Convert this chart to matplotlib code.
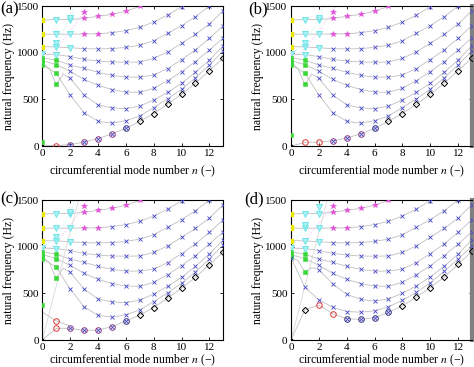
import matplotlib
matplotlib.use('Agg')
import matplotlib.pyplot as plt

plt.rcParams['font.family'] = ['Liberation Serif', 'DejaVu Serif']
plt.rcParams['mathtext.fontset'] = 'stix'

# frequencies (Hz) at n = 0, 1, 2, ...
# upper branches, the same in all four panels
up1 = [1350, 1355, 1355, 1367, 1390, 1410, 1445, 1495, 1560]
up2 = [1198, 1198, 1198, 1200, 1202, 1214, 1236, 1272, 1328, 1403, 1492, 1590]
up3 = [1065, 1062, 1053, 1043, 1040, 1043, 1057, 1080, 1128, 1207, 1290, 1385, 1500, 1620]
up4 = [985, 980, 958, 928, 910, 900, 898, 900, 939, 1008, 1100, 1195, 1307, 1450]
up5 = [945, 920, 868, 832, 790, 757, 738, 738, 760, 830, 925, 1030, 1153, 1290]
up6 = [915, 872, 800, 714, 650, 605, 578, 575, 618, 700, 796, 905, 1028, 1160]
k_up1 = 'YCCMMMMM-'
k_up2 = 'YCCMMBBBBBB-'
k_up3 = 'YCCBBBBBBBBBB-'
k_up4 = 'CCBBBBBBBBBBBB'
k_up56 = 'GGBBBBBBBBBBBB'

# branch with the dip at n=1 (x includes two in-between readings)
dip_n = [0, 0.5, 1, 1.5, 2, 3, 4, 5, 6, 7, 8, 9, 10, 11, 12, 13]
dip_abc = [890, 830, 660, 770, 725, 546, 440, 408, 400, 428, 493, 575, 671, 790, 921, 1075]
dip_d = [890, 850, 728, 775, 755, 600, 490, 435, 418, 440, 500, 580, 675, 790, 921, 1075]
k_dip = 'G-G-BBBBBBBBBBBB'

# second lowest branch
mid_abc = [870, 780, 546, 357, 264, 245, 271, 321, 412, 505, 607, 730, 868, 1020]
mid_d = [880, 565, 430, 350, 305, 298, 312, 355, 425, 510, 612, 735, 868, 1005]
k_mid = 'GGBBBBBBBBBBBB'
k_mid_d = 'BBBBBBBBBBBBBB'

# lowest branch, one per panel
low_a = [0, 5, 15, 42, 80, 130, 190, 265, 348, 447, 555, 672, 807, 946]
low_b = [0, 38, 42, 55, 85, 130, 190, 265, 348, 447, 555, 672, 807, 946]
low_c = [0, 125, 125, 102, 107, 143, 204, 268, 348, 447, 555, 672, 807, 946]
low_d = [0, 325, 375, 282, 228, 221, 240, 296, 364, 460, 560, 675, 810, 953]
k_low = 'ZRPPPPNKKKKKKK'
k_low_b = 'ZRRPPPNKKKKKKK'
k_low_d = 'ZKRRNNNNKKKKKK'

# steep branches near n = 0..3
st1_n = [0, 1, 2, 2.4]
st1_abc = [990, 1100, 1370, 1500]
st1_d = [985, 1230, 1430, 1520]
k_st1 = '-CC-'
st2_n = [0, 1, 2, 3, 3.3]
st2_abc = [930, 1040, 1230, 1432, 1520]
st2_d = [900, 1060, 1250, 1440, 1520]
k_st2 = '---M-'

# extra readings
green0 = {'a': 45, 'b': 118, 'c': 375}
c_extra_n = [0, 1, 2]
c_extra = [300, 204, 150]
faint_n = [0, 2.6]
faint = [0, 1500]

MARK = {
    'Y': dict(marker='s', ms=2.8, color='#e8e800', mfc='#e8e800'),
    'C': dict(marker='v', ms=4.2, color='#70e4e8', mfc='#a8f2f4', mew=0.7),
    'M': dict(marker='*', ms=4.2, color='#e050d8', mfc='#e050d8', mew=0.4),
    'B': dict(marker='x', ms=2.2, color='#4646d0', mew=0.6),
    'G': dict(marker='s', ms=2.3, color='#38d838', mfc='#38d838', mew=0.4),
    'R': dict(marker='o', ms=4.0, color='#e03838', mfc='none', mew=0.7),
    'P': dict(marker='o', ms=4.0, color='#8a3a7a', mfc='none', mew=0.7),
    'N': dict(marker='o', ms=4.0, color='#2a2a70', mfc='none', mew=0.7),
    'K': dict(marker='D', ms=3.2, color='black', mfc='none', mew=0.7),
    'Z': dict(marker='o', ms=1.8, color='black', mfc='black'),
}


def branch(ax, xs, ys, kinds, color='#c0c0c0', ls='-'):
    ax.plot(xs, ys, color=color, lw=0.6, ls=ls, zorder=1)
    for x, y, k in zip(xs, ys, kinds):
        if k in MARK:
            ax.plot([x], [y], ls='none', zorder=3, **MARK[k])
            if k in 'PN':
                ax.plot([x], [y], ls='none', zorder=4, **MARK['B'])


def panel(ax, key):
    n = list(range(14))
    branch(ax, n[:len(up1)], up1, k_up1)
    branch(ax, n[:len(up2)], up2, k_up2)
    branch(ax, n[:len(up3)], up3, k_up3)
    branch(ax, n, up4, k_up4)
    branch(ax, n, up5, k_up56)
    branch(ax, n, up6, k_up56)
    if key == 'd':
        branch(ax, st1_n, st1_d, k_st1, color='#b0eeee', ls=':')
        branch(ax, st2_n, st2_d, k_st2, color='#f0b8f0', ls=':')
        branch(ax, dip_n, dip_d, k_dip)
        branch(ax, n, mid_d, k_mid_d)
        branch(ax, n, low_d, k_low_d)
        branch(ax, faint_n, faint, '--', color='#d8d8d8')
        ax.plot([0], [1215], ls='none', zorder=3, **MARK['Y'])
    else:
        branch(ax, st1_n, st1_abc, k_st1, color='#b0eeee', ls=':')
        branch(ax, st2_n, st2_abc, k_st2, color='#f0b8f0', ls=':')
        branch(ax, dip_n, dip_abc, k_dip)
        branch(ax, n, mid_abc, k_mid)
        low = {'a': low_a, 'b': low_b, 'c': low_c}[key]
        kl = k_low_b if key == 'b' else k_low
        branch(ax, n, low, kl)
        ax.plot([0], [green0[key]], ls='none', zorder=3, **MARK['G'])
        if key == 'c':
            branch(ax, c_extra_n, c_extra, '-R-')
            branch(ax, faint_n, faint, '--', color='#d8d8d8')

    ax.set_xlim(0, 13)
    ax.set_ylim(0, 1500)
    ax.set_xticks(range(0, 13, 2))
    ax.set_yticks([0, 500, 1000, 1500])
    ax.tick_params(direction='in', top=True, right=True, length=2.5,
                   width=0.6, labelsize=8, pad=2.5)
    for s in ax.spines.values():
        s.set_linewidth(0.8)
    if key in 'bd':
        ax.spines['right'].set_color('#808080')
        ax.spines['right'].set_linewidth(3)
    ax.set_ylabel('natural frequency (Hz)', fontsize=8.5)
    ax.yaxis.set_label_coords(-0.15, 0.5)
    ax.set_xlabel('circumferential mode number $n$ (\u2212)', fontsize=8.5)
    ax.xaxis.set_label_coords(0.5, -0.125 if key in 'ab' else -0.09)


fig = plt.figure(figsize=(4.74, 3.67), dpi=100)
W, H = 474.0, 367.0
boxes = {'a': (42.3, 6), 'b': (291, 6), 'c': (42.3, 200), 'd': (291, 200)}
for key, (x0, y0) in boxes.items():
    ax = fig.add_axes([x0 / W, 1 - (y0 + 140) / H, 181 / W, 140 / H])
    panel(ax, key)

fig.text(0.0, 1 - 9 / H, '(a)', fontsize=12, va='center', ha='left')
fig.text(248 / W, 1 - 9 / H, '(b)', fontsize=12, va='center', ha='left')
fig.text(0.0, 1 - 199 / H, '(c)', fontsize=12, va='center', ha='left')
fig.text(244 / W, 1 - 199 / H, '(d)', fontsize=12, va='center', ha='left')

fig.savefig('out.png', dpi=100)
